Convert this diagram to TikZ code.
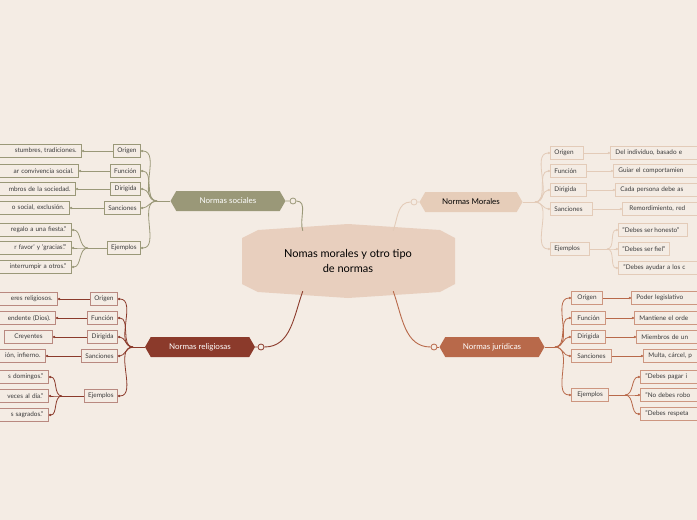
\documentclass[tikz,border=0pt]{standalone}
\usepackage{fontspec}
\setmainfont{Lato}
\usetikzlibrary{shapes.symbols,arrows.meta}
\definecolor{bg}{HTML}{F4ECE4}
\definecolor{cen}{HTML}{E8CFBE}
\definecolor{soc}{HTML}{9A9878}
\definecolor{rel}{HTML}{8B3A2B}
\definecolor{mor}{HTML}{E6CDB9}
\definecolor{mors}{HTML}{E3CBB8}
\definecolor{jur}{HTML}{B8694A}
\definecolor{txt}{HTML}{3A3A3A}
\tikzset{
 hexa/.style={signal,signal to=east and west,signal pointer angle=120,minimum height=20pt,inner xsep=6pt,font=\fontsize{8}{9}\selectfont,draw=none},
 box/.style={draw=#1,line width=0.9pt,fill=bg,minimum height=12.5pt,inner xsep=4pt,inner ysep=1pt,font=\fontsize{6.4}{7}\selectfont,text=txt},
 cut/.style={minimum width=110pt},
 cutl/.style={minimum width=110pt,align=left,text width=100pt},
 con/.style={draw=#1,line width=0.8pt,-{Circle[length=2.2pt]}},
 lnk/.style={draw=#1,line width=0.9pt},
 ring/.style={circle,draw=#1,line width=0.8pt,fill=bg,inner sep=0pt,minimum size=6pt},
}
\begin{document}
\begin{tikzpicture}[x=1pt,y=-1pt]
\fill[bg] (0,0) rectangle (697,520);
\clip (0,0) rectangle (697,520);
\useasboundingbox (0,0) rectangle (697,520);
% central
\fill[cen] (242,238) -- (258,230) -- (348,224) -- (440,230) -- (455,238) -- (455,284) -- (440,292) -- (348,298) -- (258,292) -- (242,284) -- cycle;
\node[align=center,font=\fontsize{11}{15}\selectfont,text=black,minimum width=200pt,minimum height=60pt] (c) at (348,261) {Nomas morales y otro tipo\\de normas};
% branches
\node[hexa,fill=soc,text=white,minimum width=115pt] (s) at (228,201) {Normas sociales};
\node[hexa,fill=rel,text=white,minimum width=110pt] (r) at (200,347) {Normas religiosas};
\node[hexa,fill=mor,text=black,minimum width=103pt] (m) at (471,202) {Normas Morales};
\node[hexa,fill=jur,text=white,minimum width=105pt] (j) at (492,347) {Normas jurídicas};
\node[ring=soc] (sr) at (293,201) {};
\node[ring=rel] (rr) at (261,347) {};
\node[ring=mors] (mr) at (414,202) {};
\node[ring=jur] (jr) at (434,347) {};
\draw[lnk=soc] (s) -- (sr); \draw[lnk=soc] (sr.east) to[out=0,in=110] ([xshift=55pt]c.north west);
\draw[lnk=rel] (r) -- (rr); \draw[lnk=rel] (rr.east) to[out=0,in=-110] ([xshift=55pt]c.south west);
\draw[lnk=mors] (m) -- (mr); \draw[lnk=mors] (mr.west) to[out=180,in=70] ([xshift=-55pt]c.north east);
\draw[lnk=jur] (j) -- (jr); \draw[lnk=jur] (jr.west) to[out=180,in=-70] ([xshift=-55pt]c.south east);
% sociales
\coordinate (sj) at (157,201);
\draw[lnk=soc] (s.west) -- (sj);
\foreach \n/\y/\t in {so/151/Origen,sf/171/Función,sd/189/Dirigida,ss/208/Sanciones,se/248/Ejemplos}
 \node[box=soc,anchor=east] (\n) at (141,\y) {\t};
\foreach \n in {so,sf,sd,ss,se} \draw[con=soc] (sj) to[out=180,in=0] (\n.east);
\node[box=soc,anchor=east,cut,align=right,text width=100pt] (so1) at (82,151) {stumbres, tradiciones.};
\node[box=soc,anchor=east,cut,align=right,text width=100pt] (sf1) at (79,171) {ar convivencia social.};
\node[box=soc,anchor=east,cut,align=right,text width=100pt] (sd1) at (76,189) {mbros de la sociedad.};
\node[box=soc,anchor=east,cut,align=right,text width=100pt] (ss1) at (70,208) {o social, exclusión.};
\foreach \a/\b in {so/so1,sf/sf1,sd/sd1,ss/ss1} \draw[con=soc] (\a.west) -- (\b.east);
\coordinate (sej) at (88,248);
\draw[lnk=soc] (se.west) -- (sej);
\node[box=soc,anchor=east,cut,align=right,text width=100pt] (se1) at (72,230) {regalo a una fiesta.''};
\node[box=soc,anchor=east,cut,align=right,text width=100pt] (se2) at (72,248) {r favor' y 'gracias'.''};
\node[box=soc,anchor=east,cut,align=right,text width=100pt] (se3) at (72,267) {interrumpir a otros.''};
\foreach \b in {se1,se2,se3} \draw[con=soc] (sej) to[out=180,in=0] (\b.east);
% religiosas
\coordinate (rj) at (133,347);
\draw[lnk=rel] (r.west) -- (rj);
\foreach \n/\y/\t in {ro/299/Origen,rf/318/Función,rd/337/Dirigida,rs/356/Sanciones,re/396/Ejemplos}
 \node[box=rel!60,anchor=east] (\n) at (118,\y) {\t};
\foreach \n in {ro,rf,rd,rs,re} \draw[con=rel] (rj) to[out=180,in=0] (\n.east);
\node[box=rel!60,anchor=east,cut,align=right,text width=100pt] (ro1) at (58,299) {eres religiosos.};
\node[box=rel!60,anchor=east,cut,align=right,text width=100pt] (rf1) at (56,318) {endente (Dios).};
\node[box=rel!60,anchor=east] (rd1) at (53,337) {\hspace*{6pt}Creyentes\hspace*{6pt}};
\node[box=rel!60,anchor=east,cut,align=right,text width=100pt] (rs1) at (46,356) {ión, infierno.};
\foreach \a/\b in {ro/ro1,rf/rf1,rd/rd1,rs/rs1} \draw[con=rel] (\a.west) -- (\b.east);
\coordinate (rej) at (62,396);
\draw[lnk=rel] (re.west) -- (rej);
\node[box=rel!60,anchor=east,cut,align=right,text width=100pt] (re1) at (49,377) {s domingos.''};
\node[box=rel!60,anchor=east,cut,align=right,text width=100pt] (re2) at (49,396) {veces al día.''};
\node[box=rel!60,anchor=east,cut,align=right,text width=100pt] (re3) at (49,415) {s sagrados.''};
\foreach \b in {re1,re2,re3} \draw[con=rel] (rej) to[out=180,in=0] (\b.east);
% morales
\coordinate (mj) at (535,202);
\draw[lnk=mors] (m.east) -- (mj);
\foreach \n/\y/\t in {mo/153/Origen,mf/171/Función,md/190/Dirigida,ms/209/Sanciones,me/249/Ejemplos}
 \node[box=mors,anchor=west] (\n) at (550,\y) {\t\hspace*{6pt}};
\foreach \n in {mo,mf,md,ms,me} \draw[con=mors] (mj) to[out=0,in=180] (\n.west);
\node[box=mors,anchor=west,cutl] (mo1) at (610,153) {Del individuo, basado e};
\node[box=mors,anchor=west,cutl] (mf1) at (613,171) {Guiar el comportamien};
\node[box=mors,anchor=west,cutl] (md1) at (615,190) {Cada persona debe as};
\node[box=mors,anchor=west,cutl] (ms1) at (622,209) {\hspace*{2pt}Remordimiento, red};
\foreach \a/\b in {mo/mo1,mf/mf1,md/md1,ms/ms1} \draw[con=mors] (\a.east) -- (\b.west);
\coordinate (mej) at (607,249);
\draw[lnk=mors] (me.east) -- (mej);
\node[box=mors,anchor=west] (me1) at (618,230) {''Debes ser honesto''\hspace*{4pt}};
\node[box=mors,anchor=west] (me2) at (618,249) {''Debes ser fiel''};
\node[box=mors,anchor=west,cutl] (me3) at (618,268) {''Debes ayudar a los c};
\foreach \b in {me1,me2,me3} \draw[con=mors] (mej) to[out=0,in=180] (\b.west);
% juridicas
\coordinate (jj) at (555,347);
\draw[lnk=jur] (j.east) -- (jj);
\foreach \n/\y/\t in {jo/298/Origen,jf/318/Función,jd/337/Dirigida,js/356/Sanciones,je/395/Ejemplos}
 \node[box=jur!70,anchor=west] (\n) at (571,\y) {\hspace*{2pt}\t\hspace*{2pt}};
\foreach \n in {jo,jf,jd,js,je} \draw[con=jur] (jj) to[out=0,in=180] (\n.west);
\node[box=jur!70,anchor=west,cutl] (jo1) at (631,298) {Poder legislativo};
\node[box=jur!70,anchor=west,cutl] (jf1) at (634,318) {Mantiene el orde};
\node[box=jur!70,anchor=west,cutl] (jd1) at (636,337) {Miembros de un};
\node[box=jur!70,anchor=west,cutl] (js1) at (643,356) {Multa, cárcel, p};
\foreach \a/\b in {jo/jo1,jf/jf1,jd/jd1,js/js1} \draw[con=jur] (\a.east) -- (\b.west);
\coordinate (jej) at (625,395);
\draw[lnk=jur] (je.east) -- (jej);
\node[box=jur!70,anchor=west,cutl] (je1) at (640,377) {''Debes pagar i};
\node[box=jur!70,anchor=west,cutl] (je2) at (640,395) {''No debes robo};
\node[box=jur!70,anchor=west,cutl] (je3) at (640,414) {''Debes respeta};
\foreach \b in {je1,je2,je3} \draw[con=jur] (jej) to[out=0,in=180] (\b.west);
\end{tikzpicture}
\end{document}
